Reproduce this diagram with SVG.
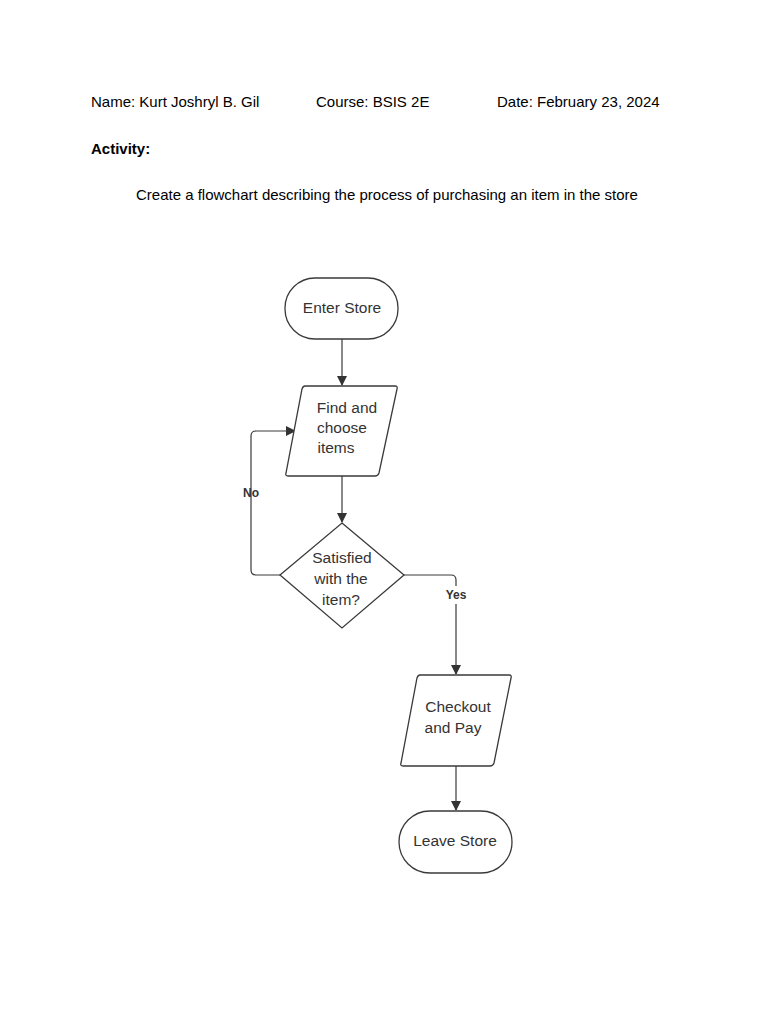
<svg xmlns="http://www.w3.org/2000/svg" width="768" height="1024" viewBox="0 0 768 1024">
<style>
.t{font-family:"Liberation Sans",Arial,sans-serif;font-size:15px;fill:#000}
.n{fill:#fff;stroke:#3a3a3a;stroke-width:1.3}
.l{font-family:"Liberation Sans",Arial,sans-serif;font-size:15.5px;fill:#333;text-anchor:middle}
.c{fill:none;stroke:#3a3a3a;stroke-width:1.2}
.b{font-family:"Liberation Sans",Arial,sans-serif;font-size:12px;font-weight:bold;fill:#333;text-anchor:middle}
</style>
<defs><marker id="a" markerWidth="10" markerHeight="10" refX="9" refY="5" orient="auto" markerUnits="userSpaceOnUse"><path d="M0,0 L10,5 L0,10 Z" fill="#333"/></marker></defs>
<rect width="768" height="1024" fill="#fff"/>
<text class="t" x="91" y="107">Name: Kurt Joshryl B. Gil</text>
<text class="t" x="316" y="107">Course: BSIS 2E</text>
<text class="t" x="497" y="107">Date: February 23, 2024</text>
<text class="t" x="91" y="154" font-weight="bold">Activity:</text>
<text class="t" x="136" y="200">Create a flowchart describing the process of purchasing an item in the store</text>
<g id="connectors">
<path class="c" d="M342,339 V385" marker-end="url(#a)"/>
<path class="c" d="M342,476 V522" marker-end="url(#a)"/>
<path class="c" d="M280,575 H256 Q251,575 251,570 V436 Q251,431 256,431 H295" marker-end="url(#a)"/>
<path class="c" d="M404,575 H451 Q456,575 456,580 V586 M456,604 V674" marker-end="url(#a)"/>
<path class="c" d="M456,766 V810" marker-end="url(#a)"/>
<text class="b" x="251" y="497">No</text>
<text class="b" x="456" y="599">Yes</text>
</g>
<g id="enter"><rect class="n" x="285" y="278" width="113" height="61" rx="30"/><text class="l" x="342" y="313">Enter Store</text></g>
<g id="find"><path class="n" d="M305,386 H395 Q398,386 397,389 L379,473 Q378,476 375,476 H288 Q285,476 286,473 L302,389 Q303,386 305,386 Z"/><text class="l" x="347" y="413">Find and</text><text class="l" x="342" y="433">choose</text><text class="l" x="336" y="453">items</text></g>
<g id="decide"><path class="n" d="M342,523 L404,575 L342,628 L280,575 Z"/><text class="l" x="342" y="563">Satisfied</text><text class="l" x="341" y="584">with the</text><text class="l" x="341" y="605">item?</text></g>
<g id="checkout"><path class="n" d="M420,675 H509 Q512,675 511,678 L494,763 Q493,766 490,766 H403 Q400,766 401,763 L417,678 Q418,675 420,675 Z"/><text class="l" x="458" y="712">Checkout</text><text class="l" x="453" y="733">and Pay</text></g>
<g id="leave"><rect class="n" x="399" y="811" width="113" height="62" rx="31"/><text class="l" x="455" y="846">Leave Store</text></g>
</svg>
